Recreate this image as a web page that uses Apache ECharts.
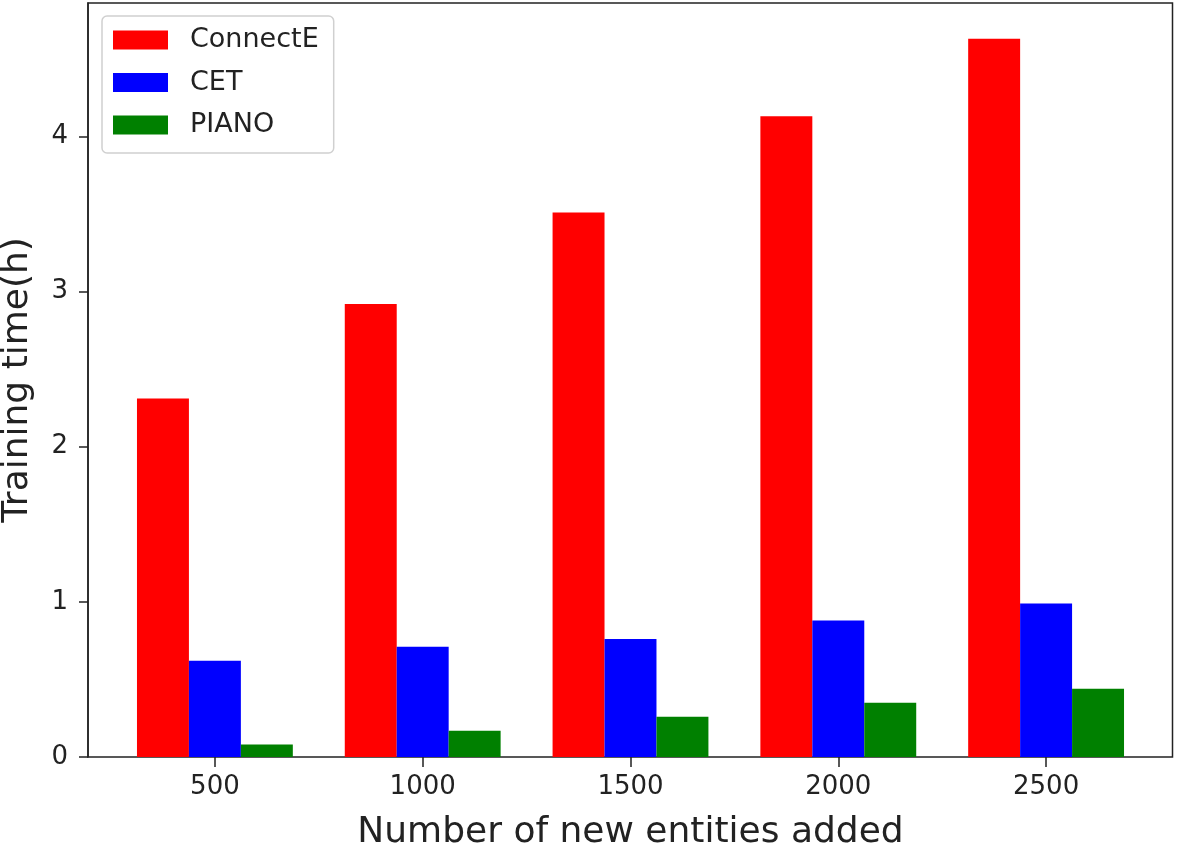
<!DOCTYPE html>
<html>
<head>
<meta charset="utf-8">
<script src="https://cdn.jsdelivr.net/npm/echarts@6/dist/echarts.min.js"></script>
<style>
    html, body { margin: 0; padding: 0; background: #fff; }
    #chart { width: 1177px; height: 845px; }
</style>
</head>
<body>
<div id="chart"></div>
<script>
// data
const categories = ["500", "1000", "1500", "2000", "2500"];
const connectE = [2.31, 2.92, 3.51, 4.13, 4.63];
const cet = [0.62, 0.71, 0.76, 0.88, 0.99];
const piano = [0.08, 0.17, 0.26, 0.35, 0.44];
const yTicks = [0, 1, 2, 3, 4];
const yMax = 4.86;

const font = "DejaVu Sans";
const ink = "#222";

const chart = echarts.init(document.getElementById("chart"));

const option = {
    animation: false,
    textStyle: { fontFamily: font },
    legend: {
        orient: "vertical",
        left: 102,
        top: 16,
        itemWidth: 55,
        itemHeight: 19,
        itemGap: 15.5,
        icon: "rect",
        padding: [10.5, 15, 14.5, 11],
        backgroundColor: "#fff",
        borderColor: "#d0d0d0",
        borderWidth: 1.5,
        borderRadius: 5,
        textStyle: { fontFamily: font, fontSize: 27, lineHeight: 26, color: ink, padding: [0, 0, 0, 17] },
        data: ["ConnectE", "CET", "PIANO"],
    },
    grid: [
        // frame + y axis
        { left: 88, right: 4.5, top: 3, bottom: 88, outerBoundsMode: "none", show: true, borderColor: ink, borderWidth: 1.5, backgroundColor: "transparent" },
        // bars
        { left: 111, right: 27, top: 3, bottom: 88, outerBoundsMode: "none" },
    ],
    xAxis: [
        { gridIndex: 0, type: "value", min: 0, max: 1, show: false },
        {
            gridIndex: 1,
            type: "category",
            data: categories,
            axisLine: { show: false },
            axisTick: { show: true, alignWithLabel: true, length: 10, lineStyle: { color: ink, width: 1.5 } },
            axisLabel: { fontFamily: font, fontSize: 26, color: ink, margin: 17 },
            name: "Number of new entities added",
            nameLocation: "middle",
            nameGap: 58,
            nameTextStyle: { fontFamily: font, fontSize: 36, color: ink },
        },
    ],
    yAxis: [
        {
            gridIndex: 0,
            type: "value",
            min: 0,
            max: yMax,
            axisLine: { show: true, lineStyle: { color: ink, width: 1.5 } },
            axisTick: { show: true, length: 9, customValues: yTicks, lineStyle: { color: ink, width: 1.5 } },
            axisLabel: { fontFamily: font, fontSize: 26, color: ink, margin: 20, customValues: yTicks },
            splitLine: { show: false },
            name: "Training time(h)",
            nameLocation: "middle",
            nameGap: 52,
            nameTextStyle: { fontFamily: font, fontSize: 36, color: ink },
        },
        { gridIndex: 1, type: "value", min: 0, max: yMax, show: false },
    ],
    series: [
        { name: "ConnectE", type: "bar", xAxisIndex: 1, yAxisIndex: 1, data: connectE, itemStyle: { color: "#ff0000" }, barGap: "0%", barCategoryGap: "25%" },
        { name: "CET", type: "bar", xAxisIndex: 1, yAxisIndex: 1, data: cet, itemStyle: { color: "#0000ff" }, barGap: "0%", barCategoryGap: "25%" },
        { name: "PIANO", type: "bar", xAxisIndex: 1, yAxisIndex: 1, data: piano, itemStyle: { color: "#008000" }, barGap: "0%", barCategoryGap: "25%" },
    ],
};

chart.setOption(option);
</script>
</body>
</html>
